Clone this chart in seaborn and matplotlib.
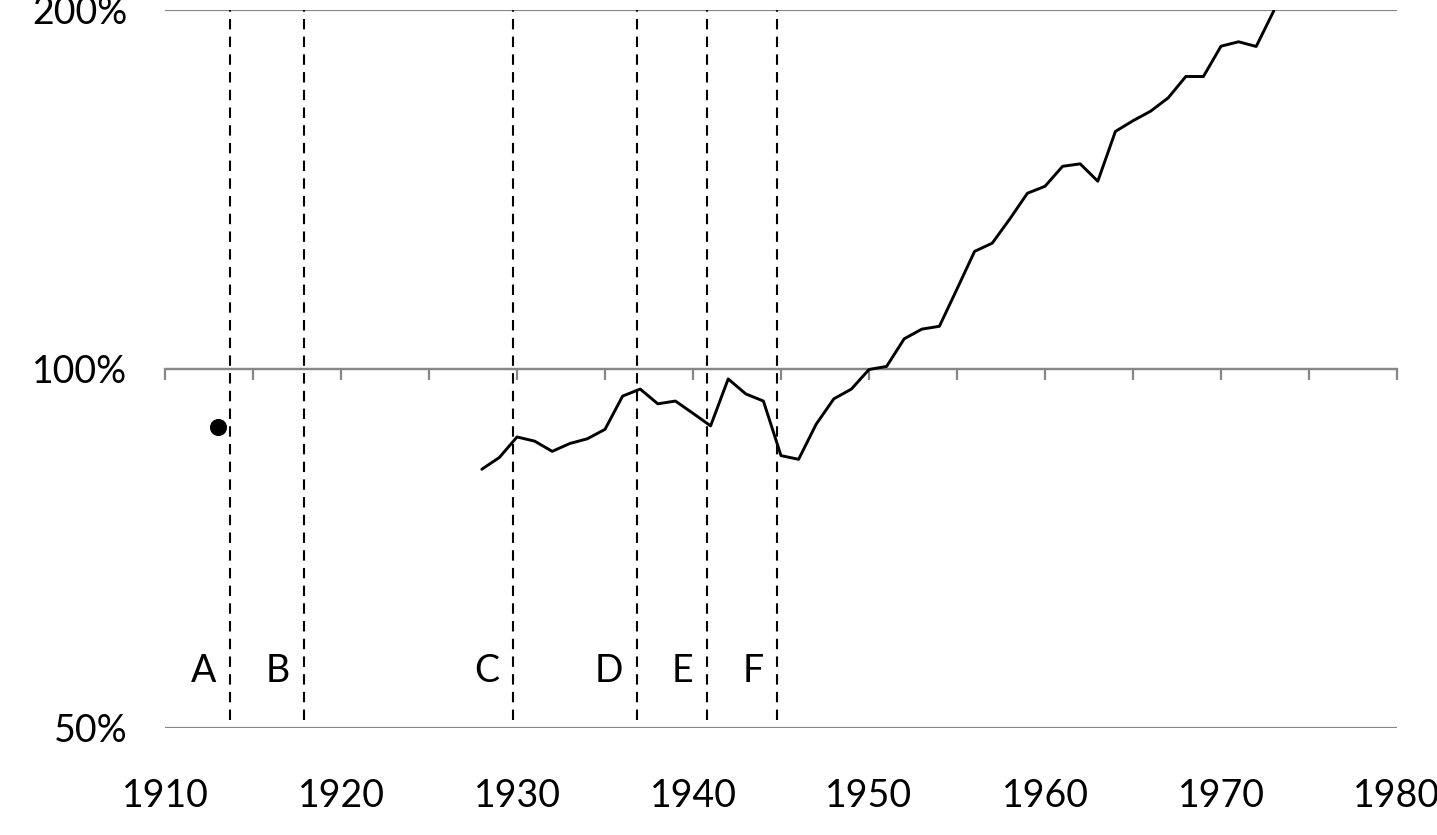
import seaborn as sns
import pandas as pd
import numpy as np
import matplotlib.pyplot as plt
from matplotlib.ticker import FixedLocator, MultipleLocator, NullFormatter

# series (ratio, 1.0 = 100%)
years = list(range(1928, 1974))
ratio = [0.824, 0.843, 0.877, 0.870, 0.853, 0.866, 0.874, 0.890, 0.949, 0.962,
         0.935, 0.940, 0.918, 0.896, 0.981, 0.953, 0.940, 0.846, 0.840, 0.899,
         0.944, 0.962, 0.999, 1.005, 1.060, 1.080, 1.086, 1.167, 1.255, 1.275,
         1.336, 1.404, 1.423, 1.479, 1.486, 1.437, 1.582, 1.615, 1.645, 1.688,
         1.759, 1.759, 1.865, 1.881, 1.864, 1.997]

# single early observation
dot_year = [1913]
dot_ratio = [0.894]

# event markers
event_years = [1913.7, 1917.9, 1929.8, 1936.8, 1940.8, 1944.8]
event_labels = ['A', 'B', 'C', 'D', 'E', 'F']

y_ticks = [0.5, 1.0, 2.0]
y_labels = ['50%', '100%', '200%']

df = pd.DataFrame({'year': years, 'ratio': ratio})
dot = pd.DataFrame({'year': dot_year, 'ratio': dot_ratio})

sns.set_style("white")
plt.rcParams['font.family'] = ['Lato', 'DejaVu Sans']
plt.rcParams['text.color'] = 'black'
plt.rcParams['xtick.color'] = 'black'
plt.rcParams['ytick.color'] = 'black'

fig, ax = plt.subplots(figsize=(14.37, 8.35), dpi=100)
fig.subplots_adjust(left=165/1437, right=1397/1437, top=1-10/835, bottom=1-728/835)

grey = '#878787'

sns.lineplot(data=df, x='year', y='ratio', ax=ax, color='black', linewidth=2.1)
sns.scatterplot(data=dot, x='year', y='ratio', ax=ax, color='black', s=130,
                edgecolor='black', zorder=5)

ax.vlines(event_years, 0.508, 2.0, colors='black', linestyles=(0, (5, 3.5)),
          linewidth=1.5, zorder=4)
for x, lab in zip(event_years, event_labels):
    ax.annotate(lab, xy=(x, 0.558), xytext=(-10, 0), textcoords='offset points',
                ha='right', va='center', fontsize=27, color='black')

ax.set_yscale('log')
ax.set_ylim(0.5, 2.0)
ax.set_xlim(1910, 1980)
ax.yaxis.set_major_locator(FixedLocator(y_ticks))
ax.yaxis.set_minor_locator(FixedLocator([]))
ax.set_yticklabels(y_labels)
ax.xaxis.set_major_locator(MultipleLocator(10))

ax.grid(axis='y', color=grey, linewidth=1.6)
ax.grid(axis='x', visible=False)
for s in ax.spines.values():
    s.set_visible(False)

ax.tick_params(axis='y', length=0, pad=27, labelsize=27, labelcolor='black')
ax.tick_params(axis='x', length=0, pad=36, labelsize=27, labelcolor='black')
ax.set_xlabel('')
ax.set_ylabel('')

# the category axis crosses at 100%, with ticks every 5 years
sec = ax.secondary_xaxis(0.5)
sec.xaxis.set_major_locator(MultipleLocator(5))
sec.xaxis.set_major_formatter(NullFormatter())
sec.tick_params(direction='in', length=8, width=1.6, color=grey)
for name, s in sec.spines.items():
    s.set_color(grey)
    s.set_linewidth(1.6)

fig.savefig('out.png', dpi=100)
